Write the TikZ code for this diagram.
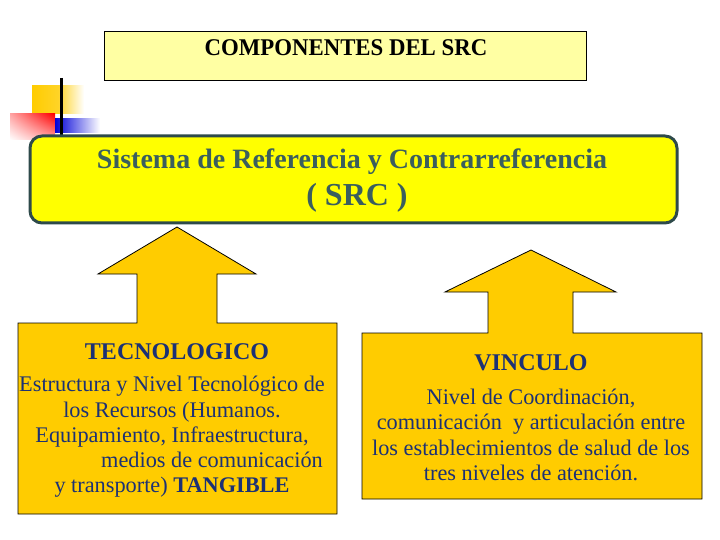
\documentclass[tikz,border=0pt]{standalone}
\usepackage{fontspec}
\setmainfont{Liberation Serif}
\usetikzlibrary{shadings}

\definecolor{titlefill}{HTML}{FFFFA3}
\definecolor{srcfill}{HTML}{FFFF00}
\definecolor{srcline}{HTML}{2E4A4A}
\definecolor{srctext}{HTML}{3A5E5E}
\definecolor{compfill}{HTML}{FFCC00}
\definecolor{comptext}{HTML}{1C3175}

\begin{document}
\begin{tikzpicture}[x=1pt, y=-1pt,
    comp/.style={draw=black, fill=compfill, line width=0.8},
    comphead/.style={text=comptext, font=\fontsize{24}{28}\selectfont\bfseries},
    compbody/.style={text=comptext, align=center, font=\fontsize{22.3}{25.3}\selectfont}]
  \useasboundingbox (0,0) rectangle (720,540);

  % 1. title
  \node[draw, fill=titlefill, minimum width=482, minimum height=49, inner sep=0]
    (title) at (345,55.5) {};
  \node[font=\fontsize{24}{28}\selectfont\bfseries, xscale=0.95] (titletext) at (346,48)
    {COMPONENTES DEL SRC};

  % 2. corner squares
  \shade[left color=compfill, right color=white, middle color=compfill!85]
    (32,86) rectangle (84,114);
  \shade[upper right=red, upper left=red!35, lower right=red!35, lower left=white]
    (10,114) rectangle (55,140);
  \shade[left color=blue!85!black, right color=white] (55,119) rectangle (100,133);
  \draw[line width=3] (61,78) -- (61,140);

  % 3. main box
  \node[draw=srcline, line width=3, fill=srcfill, rounded corners=12,
    minimum width=647, minimum height=87, inner sep=0] (src) at (353.5,179.5) {};
  \node[text=srctext, font=\fontsize{28}{32}\selectfont\bfseries] (srcname)
    at (352,162) {Sistema de Referencia y Contrarreferencia};
  \node[text=srctext, font=\fontsize{32}{36}\selectfont\bfseries] (srcabbr) at (357,198)
    {( SRC )};

  % 4. tecnologico
  \begin{scope}
    \coordinate (TL) at (18,323);
    \coordinate (TR) at (337,323);
    \coordinate (tip) at (177,227);
    \draw[comp] (TL) -- (137,323) -- (137,274) -- (98,274) -- (tip)
      -- (256,274) -- (217,274) -- (217,323) -- (TR) -- (337,514) -- (18,514) -- cycle;
    \node[comphead] (tecno) at (177,352) {TECNOLOGICO};
    \node[compbody] (tecnobody) at (172,437)
      {Estructura y Nivel Tecnológico de\\
       los Recursos (Humanos.\\
       Equipamiento, Infraestructura,\\
       \hspace*{80pt}medios de comunicación\\
       y transporte) \textbf{TANGIBLE}};
  \end{scope}

  % 5. vinculo
  \begin{scope}
    \coordinate (TL) at (362,333);
    \coordinate (TR) at (702,333);
    \coordinate (tip) at (531,250);
    \draw[comp] (TL) -- (488,333) -- (488,292) -- (445,292) -- (tip)
      -- (616,292) -- (573,292) -- (573,333) -- (TR) -- (702,499) -- (362,499) -- cycle;
    \node[comphead] (vinculo) at (531,363) {VINCULO};
    \node[compbody] (vinculobody) at (531,435)
      {Nivel de Coordinación,\\
       comunicación \ y articulación entre\\
       los establecimientos de salud de los\\
       tres niveles de atención.};
  \end{scope}
\end{tikzpicture}
\end{document}
